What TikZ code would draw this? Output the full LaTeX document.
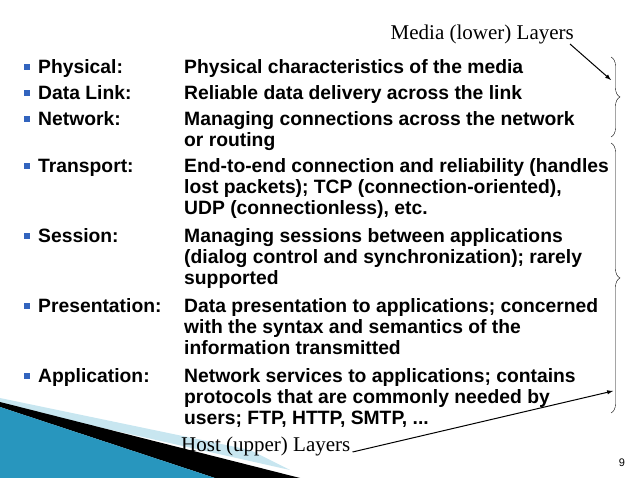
\documentclass[tikz,border=0pt]{standalone}
\usepackage{fontspec}
\setmainfont{Liberation Sans}
\newfontfamily\serifx{Liberation Serif}
\usetikzlibrary{decorations.pathreplacing}
\definecolor{teal1}{RGB}{40,150,190}
\definecolor{lblue}{RGB}{200,230,240}
\definecolor{bulc}{RGB}{50,100,190}
\begin{document}
\begin{tikzpicture}[x=1pt,y=-1pt,
  txt/.style={anchor=base west,inner sep=0,font=\fontsize{19.3}{22}\selectfont\bfseries},
  ser/.style={inner sep=0,font=\serifx\fontsize{21}{24}\selectfont},
  bul/.style={fill=bulc,minimum size=6pt,inner sep=0},
  conn/.style={draw=black,line width=1pt,-latex}]
\useasboundingbox (0,0) rectangle (638,478);
% decoration
\fill[lblue] (0,398) -- (250,450) -- (290,470) -- (0,405) -- cycle;
\fill[black] (0,402) -- (300,478) -- (215,478) -- (0,407) -- cycle;
\fill[teal1] (0,407) -- (215,478) -- (0,478) -- cycle;
% items
\foreach \y/\lab in {74/Physical:,100/Data Link:,126/Network:,173/Transport:,243/Session:,313/Presentation:,383/Application:}{
  \node[bul] at (27,\y-6.5) {};
  \node[txt] at (38,\y) {\lab};
}
\node[txt] (l1) at (184,74) {Physical characteristics of the media};
\node[txt] (l2) at (184,100) {Reliable data delivery across the link};
\node[txt] (l3) at (184,126) {Managing connections across the network};
\node[txt] at (184,147) {or routing};
\node[txt] (l4) at (184,173) {End-to-end connection and reliability (handles};
\node[txt] at (184,194) {lost packets); TCP (connection-oriented),};
\node[txt] at (184,215) {UDP (connectionless), etc.};
\node[txt] at (184,243) {Managing sessions between applications};
\node[txt] at (184,264) {(dialog control and synchronization); rarely};
\node[txt] at (184,285) {supported};
\node[txt] at (184,313) {Data presentation to applications; concerned};
\node[txt] at (184,334) {with the syntax and semantics of the};
\node[txt] at (184,355) {information transmitted};
\node[txt] at (184,383) {Network services to applications; contains};
\node[txt] at (184,404) {protocols that are commonly needed by};
\node[txt] at (184,425) {users; FTP, HTTP, SMTP, ...};
\node[ser,anchor=east] (media) at (574,34) {Media (lower) Layers};
\node[ser,anchor=west] (host) at (181,446) {Host (upper) Layers};
\node[inner sep=0,font=\fontsize{11}{13}\selectfont] (pg) at (622,463) {9};
% braces
\coordinate (b1t) at (611,57); \coordinate (b1b) at (611,137);
\coordinate (b2t) at (611,143); \coordinate (b2b) at (611,413);
\draw[decorate,decoration={brace,amplitude=9pt}] (b1t) -- (b1b);
\draw[decorate,decoration={brace,amplitude=9pt}] (b2t) -- (b2b);
\coordinate (a1) at (611,80); \coordinate (a2) at (613,391);
\draw[conn] (media.east) ++(-4,10) -- (a1);
\draw[conn] (host.east) ++(2,6) -- (a2);
\end{tikzpicture}
\end{document}
